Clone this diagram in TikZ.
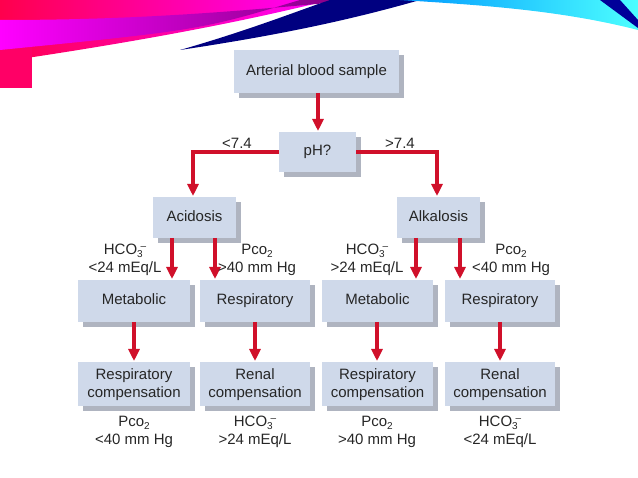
\documentclass[tikz,border=0pt]{standalone}
\usepackage{fontspec}
\setmainfont{Liberation Sans}
\newcommand{\sbx}[1]{\raisebox{-0.35ex}{\fontsize{10}{10}\selectfont #1}}
\newcommand{\hco}{HCO\rlap{\sbx{3}}\raisebox{0.7ex}{\fontsize{10}{10}\selectfont\,\,–}}
\begin{document}
\begin{tikzpicture}[x=1pt,y=-1pt,
  arr/.style={draw=redc,line width=3.6pt,-{Triangle[length=12pt,width=11pt]}},
  lab/.style={align=center,inner sep=0pt,font=\fontsize{15}{18}\selectfont,text=black!85}]
\usetikzlibrary{arrows.meta}
\definecolor{boxc}{RGB}{207,217,234}
\definecolor{shc}{RGB}{175,180,192}
\definecolor{redc}{RGB}{208,16,42}
\useasboundingbox (0,0) rectangle (638,478);
% banner
\shade[left color=red!70!magenta, right color=magenta] (0,0) -- (330,0) .. controls (250,20) and (150,40) .. (0,62) -- cycle;
\fill[red!60!magenta] (0,40) rectangle (32,88);
\shade[left color=magenta, right color=violet] (0,20) .. controls (150,20) and (250,10) .. (360,0) -- (300,0) .. controls (200,30) .. (0,50) -- cycle;
\fill[blue!50!black] (180,50) .. controls (250,30) and (300,10) .. (330,0) -- (420,0) .. controls (350,20) and (280,35) .. (180,50) -- cycle;
\shade[left color=blue!40!cyan, right color=cyan!70] (400,0) .. controls (480,5) and (560,10) .. (638,30) -- (638,0) -- cycle;
\fill[blue!60!black] (600,0) -- (620,0) -- (638,20) -- (638,28) -- cycle;
% boxes
\newcommand{\bx}[6]{%
  \fill[shc] (#2+5,#3+5) rectangle (#4+5,#5+5);
  \fill[boxc] (#2,#3) rectangle (#4,#5);
  \node[lab] (#1) at ({(#2+#4)/2},{(#3+#5)/2}) {\strut#6};}
\bx{art}{234}{50}{399}{93}{Arterial blood sample}
\bx{ph}{279}{132}{356}{172}{pH?}
\bx{aci}{153}{197}{236}{238}{Acidosis}
\bx{alk}{397}{197}{480}{238}{Alkalosis}
\bx{m1}{78}{280}{190}{322}{Metabolic}
\bx{r1}{200}{280}{310}{322}{Respiratory}
\bx{m2}{322}{280}{433}{322}{Metabolic}
\bx{r2}{445}{280}{555}{322}{Respiratory}
\bx{c1}{78}{362}{190}{406}{Respiratory\\compensation}
\bx{c2}{200}{362}{310}{406}{Renal\\compensation}
\bx{c3}{322}{362}{433}{406}{Respiratory\\compensation}
\bx{c4}{445}{362}{555}{406}{Renal\\compensation}
% arrows
\draw[arr] (318,93) -- (318,131);
\draw[arr] (279,152) -| (193,196);
\draw[arr] (356,152) -| (437,196);
\node[lab] at (237,143) {<7.4};
\node[lab] at (400,143) {>7.4};
\draw[arr] (172,238) -- (172,279);
\draw[arr] (215,238) -- (215,279);
\draw[arr] (416,238) -- (416,279);
\draw[arr] (460,238) -- (460,279);
\foreach \x in {134,255,377,500} \draw[arr] (\x,322) -- (\x,361);
% labels
\node[lab] at (125,260) {\hco\\<24 mEq/L};
\node[lab] at (257,260) {Pco\sbx{2}\\>40 mm Hg};
\node[lab] at (367,260) {\hco\\>24 mEq/L};
\node[lab] at (511,260) {Pco\sbx{2}\\<40 mm Hg};
\node[lab] at (134,432) {Pco\sbx{2}\\<40 mm Hg};
\node[lab] at (255,432) {\hco\\>24 mEq/L};
\node[lab] at (377,432) {Pco\sbx{2}\\>40 mm Hg};
\node[lab] at (500,432) {\hco\\<24 mEq/L};
\end{tikzpicture}
\end{document}
